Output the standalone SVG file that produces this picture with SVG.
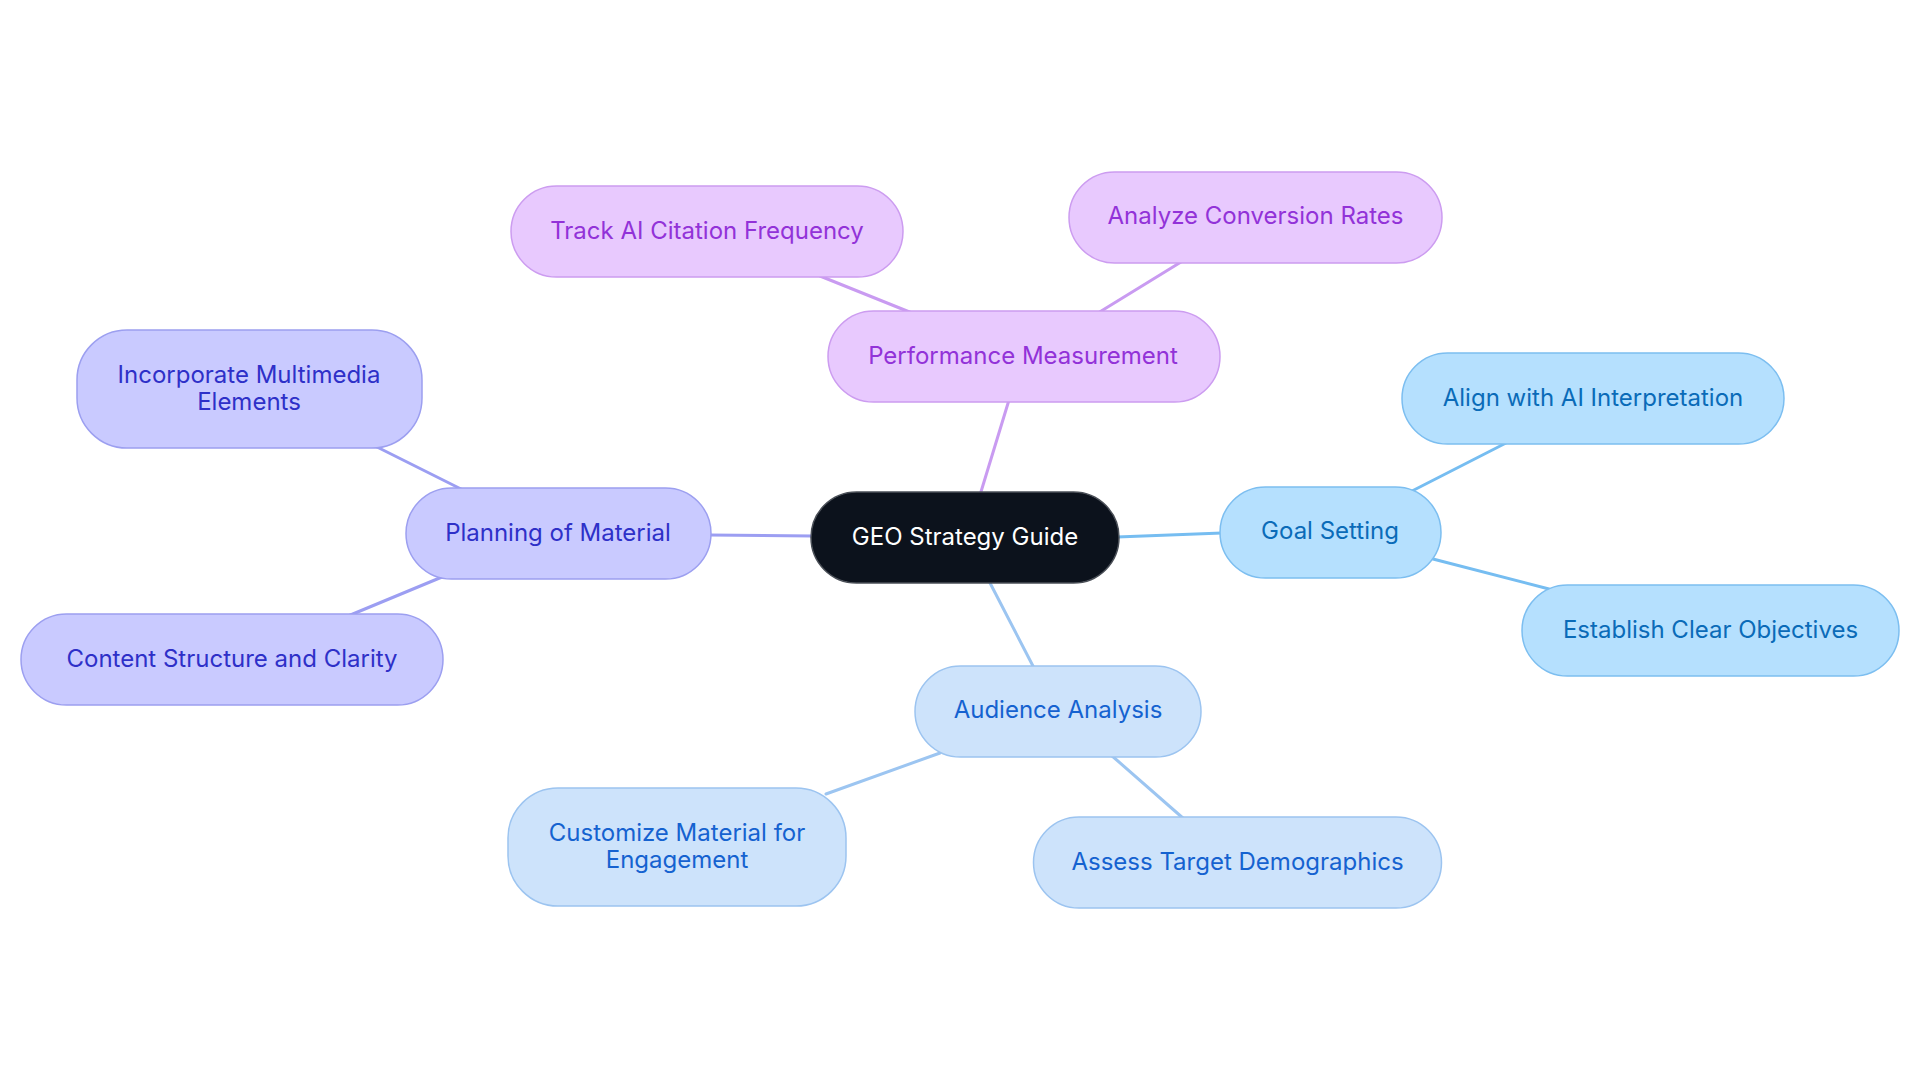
<svg xmlns="http://www.w3.org/2000/svg" width="1920" height="1083" viewBox="0 0 1920 1083">
<style>
text{font-family:Inter,"Noto Sans","Liberation Sans",sans-serif;font-size:24px;text-anchor:middle}
.c{fill:none;stroke-width:3;stroke-linecap:round}
.cp{stroke:#c99bf1}
.ci{stroke:#9c9ef2}
.cg{stroke:#76bdf1}
.ca{stroke:#9cc5f1}
.np rect{fill:#e8c9fe;stroke:#cc9cf0;stroke-width:1.5}
.np text{fill:#9232d8}
.ni rect{fill:#c9caff;stroke:#9c9ff0;stroke-width:1.5}
.ni text{fill:#2e30c8}
.ng rect{fill:#b5e0fe;stroke:#7cbef0;stroke-width:1.5}
.ng text{fill:#0a6bb8}
.na rect{fill:#cde3fb;stroke:#9cc4f0;stroke-width:1.5}
.na text{fill:#1562d0}
</style>
<rect width="1920" height="1083" fill="#ffffff"/>
<g id="connectors">
<line class="c cp" x1="980" y1="495" x2="1009" y2="400"/>
<line class="c cp" x1="912" y1="313" x2="820" y2="276"/>
<line class="c cp" x1="1098" y1="313" x2="1181" y2="262"/>
<line class="c ci" x1="813" y1="536" x2="709" y2="535"/>
<line class="c ci" x1="463" y1="490" x2="375" y2="446"/>
<line class="c ci" x1="442" y1="577" x2="348" y2="616"/>
<line class="c cg" x1="1117" y1="537" x2="1222" y2="533"/>
<line class="c cg" x1="1412" y1="491" x2="1506" y2="443"/>
<line class="c cg" x1="1433" y1="559" x2="1549" y2="589"/>
<line class="c ca" x1="989" y1="581" x2="1034" y2="668"/>
<line class="c ca" x1="1111" y1="755" x2="1184" y2="819"/>
<line class="c ca" x1="940" y1="753" x2="826" y2="794"/>
</g>
<g id="center">
<rect x="811" y="492" width="308" height="91" rx="45.5" fill="#0c121c" stroke="#4a4f57" stroke-width="1.5"/>
<text x="965" y="545" fill="#ffffff">GEO Strategy Guide</text>
</g>
<g id="performance" class="np">
<rect x="828" y="311" width="392" height="91" rx="45.5"/>
<text x="1023" y="364">Performance Measurement</text>
</g>
<g id="track" class="np">
<rect x="511" y="186" width="392" height="91" rx="45.5"/>
<text x="707" y="239">Track AI Citation Frequency</text>
</g>
<g id="analyze" class="np">
<rect x="1069" y="172" width="373" height="91" rx="45.5"/>
<text x="1255.5" y="224">Analyze Conversion Rates</text>
</g>
<g id="planning" class="ni">
<rect x="406" y="488" width="305" height="91" rx="45.5"/>
<text x="558" y="541">Planning of Material</text>
</g>
<g id="incorporate" class="ni">
<rect x="77" y="330" width="345" height="118" rx="50"/>
<text x="249" y="383">Incorporate Multimedia</text>
<text x="249" y="410">Elements</text>
</g>
<g id="content" class="ni">
<rect x="21" y="614" width="422" height="91" rx="45.5"/>
<text x="232" y="667">Content Structure and Clarity</text>
</g>
<g id="goal" class="ng">
<rect x="1220" y="487" width="221" height="91" rx="45.5"/>
<text x="1330" y="539">Goal Setting</text>
</g>
<g id="align" class="ng">
<rect x="1402" y="353" width="382" height="91" rx="45.5"/>
<text x="1593" y="406">Align with AI Interpretation</text>
</g>
<g id="establish" class="ng">
<rect x="1522" y="585" width="377" height="91" rx="45.5"/>
<text x="1710.5" y="638">Establish Clear Objectives</text>
</g>
<g id="audience" class="na">
<rect x="915" y="666" width="286" height="91" rx="45.5"/>
<text x="1058" y="718">Audience Analysis</text>
</g>
<g id="assess" class="na">
<rect x="1033.5" y="817" width="408" height="91" rx="45.5"/>
<text x="1237.5" y="870">Assess Target Demographics</text>
</g>
<g id="customize" class="na">
<rect x="508" y="788" width="338" height="118" rx="50"/>
<text x="677" y="841">Customize Material for</text>
<text x="677" y="868">Engagement</text>
</g>
</svg>
